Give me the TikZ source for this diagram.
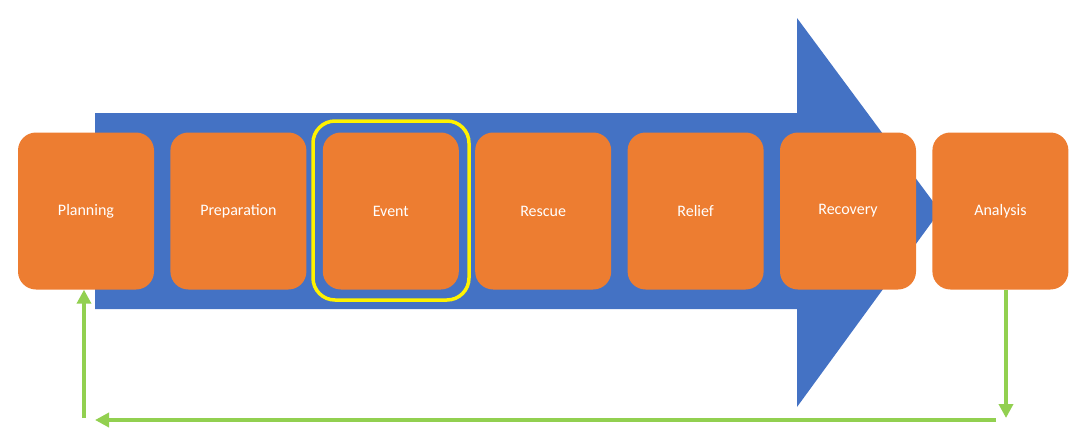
\documentclass[tikz,border=0pt]{standalone}
\usepackage{fontspec}
\setmainfont{Carlito}
\usetikzlibrary{arrows.meta,positioning}
\definecolor{stageorange}{HTML}{ED7D31}
\definecolor{flowblue}{HTML}{4472C4}
\definecolor{loopgreen}{HTML}{92D050}
\begin{document}
\begin{tikzpicture}[x=1pt,y=-1pt,
        stage/.style={fill=stageorange,rounded corners=18pt,minimum width=136pt,
            minimum height=157pt,text=white,font=\fontsize{16}{18}\selectfont,inner sep=0pt},
        loop/.style={draw=loopgreen,line width=4pt,-{Triangle[length=14pt,width=14pt]}}]
    \useasboundingbox (0,0) rectangle (1080,442);
    % big arrow
    \fill[flowblue] (95,113) -- (797,113) -- (797,18) -- (940,211) -- (797,407)
        -- (797,309) -- (95,309) -- cycle;
    % stages
    \node[stage] (planning) at (86,211) {Planning};
    \node[stage,right=16pt of planning] (preparation) {Preparation};
    \node[stage,right=16pt of preparation] (event) {Event};
    \node[stage,right=16pt of event] (rescue) {Rescue};
    \node[stage,right=16pt of rescue] (relief) {Relief};
    \node[stage,right=16pt of relief] (recovery) {Recovery};
    \node[stage,right=16pt of recovery] (analysis) {Analysis};
    % highlight
    \draw[yellow,line width=3.5pt,rounded corners=22pt] (313,121) rectangle (469,300);
    % feedback loop
    \coordinate (downend) at (1006,418);
    \coordinate (rightstart) at (996,420);
    \coordinate (leftend) at (95,420);
    \coordinate (upstart) at (84,418);
    \draw[loop] (analysis.south -| downend) -- (downend);
    \draw[loop] (rightstart) -- (leftend);
    \draw[loop] (upstart) -- (upstart |- planning.south);
\end{tikzpicture}
\end{document}
